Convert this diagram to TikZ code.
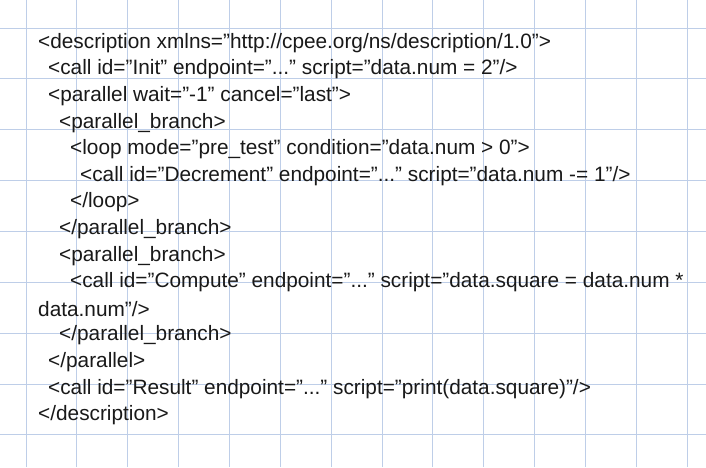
\documentclass[tikz,border=0pt]{standalone}
\usepackage{fontspec}
\setmainfont{Liberation Sans}
\definecolor{gridc}{RGB}{190,206,232}
\newcommand\q{\symbol{34}}
\begin{document}
\begin{tikzpicture}[x=1pt,y=-1pt,
  code/.style={anchor=west,inner sep=0pt,font=\fontsize{20.8}{24}\selectfont,text=black!90}]
\fill[white] (0,0) rectangle (706,467);
\useasboundingbox (0,0) rectangle (706,467);
\foreach \i in {0,...,13} \draw[gridc,line width=0.8pt] (26+\i*50.85,0) -- (26+\i*50.85,467);
\foreach \i in {0,...,8} \draw[gridc,line width=0.8pt] (0,28+\i*50.85) -- (706,28+\i*50.85);
\node[code] (l1) at (38,43) {<description xmlns=\q http://cpee.org/ns/description/1.0\q>};
\node[code] (l2) at (48,69.6) {<call id=\q Init\q{} endpoint=\q...\q{} script=\q data.num = 2\q/>};
\node[code] (l3) at (48,96.2) {<parallel wait=\q-1\q{} cancel=\q last\q>};
\node[code] (l4) at (59,122.8) {<parallel\_branch>};
\node[code] (l5) at (70,149.4) {<loop mode=\q pre\_test\q{} condition=\q data.num > 0\q>};
\node[code] (l6) at (80,176) {<call id=\q Decrement\q{} endpoint=\q...\q{} script=\q data.num -= 1\q/>};
\node[code] (l7) at (70,202.6) {</loop>};
\node[code] (l8) at (59,229.2) {</parallel\_branch>};
\node[code] (l9) at (59,255.8) {<parallel\_branch>};
\node[code] (l10) at (70,282.4) {<call id=\q Compute\q{} endpoint=\q...\q{} script=\q data.square = data.num *};
\node[code] (l11) at (38,309) {data.num\q/>};
\node[code] (l12) at (59,335.6) {</parallel\_branch>};
\node[code] (l13) at (48,362.2) {</parallel>};
\node[code] (l14) at (48,388.8) {<call id=\q Result\q{} endpoint=\q...\q{} script=\q print(data.square)\q/>};
\node[code] (l15) at (38,415.4) {</description>};
\end{tikzpicture}
\end{document}
